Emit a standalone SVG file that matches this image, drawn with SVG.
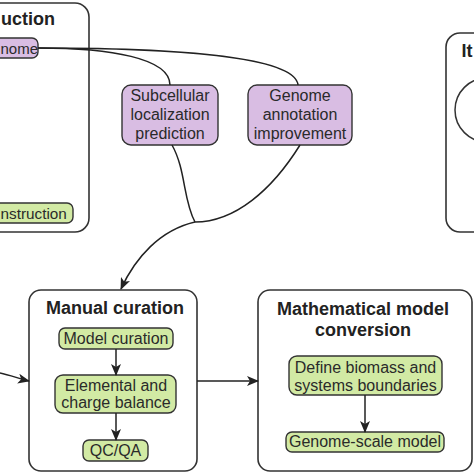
<svg xmlns="http://www.w3.org/2000/svg" width="474" height="474" viewBox="0 0 474 474">
<defs>
<style>
.box{fill:#fff;stroke:#333;stroke-width:1.6}
.pu{fill:#d9bde3;stroke:#333;stroke-width:1.4}
.gr{fill:#d2eaa4;stroke:#333;stroke-width:1.4}
.t{font-family:"Liberation Sans",Arial,sans-serif;font-size:16px;fill:#2a2a2a}
.h{font-family:"Liberation Sans",Arial,sans-serif;font-size:18px;font-weight:bold;fill:#222}
.c{fill:none;stroke:#222;stroke-width:1.5}
</style>
<marker id="ar" viewBox="0 0 12 10" refX="11" refY="5" markerWidth="12" markerHeight="10" markerUnits="userSpaceOnUse" orient="auto">
<path d="M0,0 L12,5 L0,10 L3,5 Z" fill="#222"/>
</marker>
</defs>
<rect width="474" height="474" fill="#fff"/>
<g id="draft-box">
<rect class="box" x="-200" y="3" width="289" height="229" rx="14"/>
<text class="h" x="1" y="25">uction</text>
</g>
<g id="iterative-box">
<rect class="box" x="446" y="33" width="200" height="199" rx="14"/>
<text class="h" x="461.5" y="57">It</text>
<circle cx="487" cy="110" r="32" fill="none" stroke="#333" stroke-width="1.5"/>
</g>
<g id="genome">
<rect class="pu" x="-60" y="38" width="98" height="20" rx="6"/>
<text class="t" x="0.5" y="54" style="font-size:15px">nome</text>
</g>
<g id="draft-node">
<rect class="gr" x="-120" y="203" width="193" height="20" rx="6"/>
<text class="t" x="0.5" y="219" style="font-size:15.3px">nstruction</text>
</g>
<g id="subcellular">
<rect class="pu" x="122" y="85" width="96" height="60" rx="9"/>
<text class="t" x="170" y="101" text-anchor="middle">Subcellular</text>
<text class="t" x="170" y="120" text-anchor="middle">localization</text>
<text class="t" x="170" y="139" text-anchor="middle">prediction</text>
</g>
<g id="annotation">
<rect class="pu" x="248" y="85" width="104" height="60" rx="9"/>
<text class="t" x="300" y="101" text-anchor="middle">Genome</text>
<text class="t" x="300" y="120" text-anchor="middle">annotation</text>
<text class="t" x="300" y="139" text-anchor="middle">improvement</text>
</g>
<g id="manual-curation">
<rect class="box" x="29" y="290" width="168" height="181" rx="12"/>
<text class="h" x="115" y="314" text-anchor="middle">Manual curation</text>
</g>
<g id="model-curation">
<rect class="gr" x="59" y="328" width="114" height="21" rx="6"/>
<text class="t" x="116" y="344" text-anchor="middle">Model curation</text>
</g>
<g id="elemental">
<rect class="gr" x="55" y="375" width="121" height="38" rx="8"/>
<text class="t" x="116" y="391" text-anchor="middle">Elemental and</text>
<text class="t" x="116" y="408" text-anchor="middle">charge balance</text>
</g>
<g id="qcqa">
<rect class="gr" x="83" y="440" width="65" height="21" rx="6"/>
<text class="t" x="115.5" y="456" text-anchor="middle">QC/QA</text>
</g>
<g id="math-conversion">
<rect class="box" x="258" y="290" width="214" height="181" rx="12"/>
<text class="h" x="363" y="315" text-anchor="middle">Mathematical model</text>
<text class="h" x="363" y="336" text-anchor="middle">conversion</text>
</g>
<g id="define-biomass">
<rect class="gr" x="289" y="356" width="153" height="39" rx="8"/>
<text class="t" x="365.5" y="373" text-anchor="middle">Define biomass and</text>
<text class="t" x="365.5" y="391" text-anchor="middle">systems boundaries</text>
</g>
<g id="genome-scale">
<rect class="gr" x="286" y="432" width="158" height="20" rx="6"/>
<text class="t" x="365" y="447" text-anchor="middle">Genome-scale model</text>
</g>
<g id="connectors">
<path class="c" d="M38,48 C110,48 170,58 170,85"/>
<path class="c" d="M38,48 C170,48 295,56 298,85"/>
<path class="c" d="M172,145 C186,170 183,200 195,222"/>
<path class="c" d="M300,145 C272,190 235,222 195,222"/>
<path class="c" d="M195,222 C160,230 135,258 121,289" marker-end="url(#ar)"/>
<path class="c" d="M0,373 C10,375 20,379 29,381" marker-end="url(#ar)"/>
<path class="c" d="M197,381 L258,381" marker-end="url(#ar)"/>
<path class="c" d="M116,349 L116,375" marker-end="url(#ar)"/>
<path class="c" d="M116,413 L116,440" marker-end="url(#ar)"/>
<path class="c" d="M365,395 L365,432" marker-end="url(#ar)"/>
</g>
</svg>
